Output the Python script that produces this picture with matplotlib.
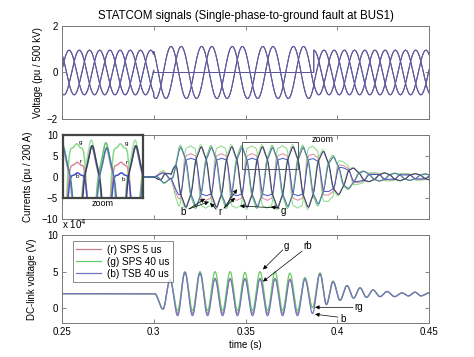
import numpy as np
import matplotlib
matplotlib.use('Agg')
import matplotlib.pyplot as plt
from matplotlib.patches import Rectangle

plt.rcParams['font.family'] = ['Liberation Sans', 'DejaVu Sans']

# ------ Data ------
t_start, t_end = 0.25, 0.45
t_fault = 0.300          # fault applied
t_clear = 0.3872         # fault cleared
f_grid = 60.0

# phase voltages (pu)
v_amp_normal = 0.96
v_amp_fault = 1.12       # healthy phases during the fault

# phase currents: envelope of peak values (pu)
i_env_t = [0.2500, 0.3005, 0.3050, 0.3095, 0.3135, 0.3860, 0.3950, 0.4030, 0.4100, 0.4180, 0.4500]
i_env_v = [0.0, 0.0, 1.6, 0.6, 7.0, 7.0, 5.5, 3.5, 1.8, 1.0, 0.7]
i_peak_t = 0.3535        # peak of the phase shown in the zoom box
i_scale = {'r': [0.92, 1.00, 0.97], 'g': [1.23, 1.10, 1.06], 'b': [0.74, 1.02, 0.99]}
i_shift = {'r': 0.0, 'g': 0.06, 'b': -0.06}
i_h3 = [0.20, 0.05, 0.05]
i_h5 = 0.06

# DC-link voltage extrema (x 1e4 V)
dc_pre = 2.0
dc_drop_t = 0.3005
dc_trough_t = [0.3050, 0.3130, 0.3211, 0.3293, 0.3375, 0.3456, 0.3538, 0.3620, 0.3702, 0.3783,
               0.3865, 0.3941, 0.4015, 0.4089, 0.4159, 0.4233, 0.4312, 0.4388, 0.4456]
dc_peak_t = [0.3089, 0.3170, 0.3252, 0.3334, 0.3416, 0.3497, 0.3579, 0.3661, 0.3742, 0.3824,
             0.3906, 0.3977, 0.4053, 0.4124, 0.4195, 0.4271, 0.4353, 0.4424]
dc_trough = {
    'r': [-0.1, -0.7, -0.7, -0.7, -0.7, -0.7, -0.7, -0.7, -0.7, -0.7, 0.1, 0.6, 1.1, 1.4, 1.5, 1.6, 1.6, 1.7, 1.7],
    'g': [-0.1, -0.3, -0.3, -0.3, -0.3, -0.3, -0.3, -0.3, -0.3, -0.3, 0.1, 0.6, 1.1, 1.4, 1.5, 1.6, 1.6, 1.7, 1.7],
    'b': [-0.1, -1.0, -1.0, -1.0, -1.0, -1.0, -1.0, -1.0, -1.0, -1.0, -0.7, 0.5, 1.1, 1.4, 1.5, 1.6, 1.6, 1.7, 1.7],
}
dc_peak = {
    'r': [3.9, 4.9, 4.8, 4.1, 4.1, 4.1, 4.1, 4.1, 4.0, 4.0, 4.8, 3.7, 3.1, 2.8, 2.5, 2.3, 2.1, 2.2],
    'g': [3.9, 5.0, 5.0, 5.0, 5.0, 4.9, 5.0, 5.0, 4.8, 4.2, 4.8, 3.7, 3.1, 2.8, 2.5, 2.3, 2.1, 2.2],
    'b': [3.9, 4.9, 4.8, 4.0, 4.0, 4.0, 4.0, 4.0, 3.9, 4.0, 4.7, 3.6, 3.1, 2.8, 2.5, 2.3, 2.1, 2.2],
}
dc_final = 2.1

models = ['r', 'g', 'b']
legend_labels = ['(r) SPS 5 us', '(g) SPS 40 us', '(b) TSB 40 us']
dc_colors = {'r': '#c4808f', 'g': '#66cc66', 'b': '#7474c0'}
i_colors = {
    'r': ['#d98a98', '#b07ab8', '#e0a4a4'],
    'g': ['#86da86', '#a6e3a0', '#62c46a'],
    'b': ['#4650c4', '#34465e', '#3a7fa8'],
}
v_colors = {'r': '#8a78a8', 'g': '#7a8a9a', 'b': '#5a55a0'}

# ------ Signals ------
t = np.linspace(t_start, t_end, 6001)
w = 2 * np.pi * f_grid
in_fault = (t >= t_fault) & (t < t_clear)

theta_v = np.pi / 2 - w * t_clear
volt = []
for k in range(3):
    amp = np.where(in_fault, v_amp_fault, v_amp_normal)
    v = amp * np.sin(w * t + theta_v - k * 2 * np.pi / 3)
    if k == 0:
        v[in_fault] = 0.0
    volt.append(v)

env = np.interp(t, i_env_t, i_env_v)
theta_i = np.pi / 2 - w * i_peak_t
curr = {}
for m in models:
    curr[m] = []
    for k in range(3):
        x = w * t + theta_i - k * 2 * np.pi / 3 + i_shift[m]
        wave = np.sin(x) + i_h3[k] * np.sin(3 * x) + i_h5 * np.sin(5 * x)
        curr[m].append(i_scale[m][k] * env * wave)


def dc_curve(m):
    kt = [t_start, dc_drop_t]
    kv = [dc_pre, dc_pre]
    for j in range(len(dc_trough_t)):
        kt.append(dc_trough_t[j]); kv.append(dc_trough[m][j])
        if j < len(dc_peak_t):
            kt.append(dc_peak_t[j]); kv.append(dc_peak[m][j])
    kt.append(t_end); kv.append(dc_final)
    kt = np.array(kt); kv = np.array(kv)
    idx = np.clip(np.searchsorted(kt, t, side='right') - 1, 0, len(kt) - 2)
    s = (t - kt[idx]) / (kt[idx + 1] - kt[idx])
    return kv[idx] + (kv[idx + 1] - kv[idx]) * (1 - np.cos(np.pi * s)) / 2


# ------ Figure ------
fig = plt.figure(figsize=(4.74, 3.57), dpi=100)
ax1 = fig.add_axes([0.1308, 0.6667, 0.7743, 0.2605])
ax2 = fig.add_axes([0.1308, 0.3866, 0.7743, 0.2353])
ax3 = fig.add_axes([0.1308, 0.0952, 0.7743, 0.2465])
tick_fs = 7


def matlab_axes(ax):
    ax.set_xlim(t_start, t_end)
    ax.set_xticks([0.25, 0.3, 0.35, 0.4, 0.45])
    ax.tick_params(direction='in', top=True, right=True, length=3, width=0.5,
                   labelsize=tick_fs, color='#555555', pad=3)
    for sp in ax.spines.values():
        sp.set_color('#777777')
        sp.set_linewidth(0.7)


# ------ Plot 1: voltages ------
for k in range(3):
    for m in ['g', 'r', 'b']:
        ax1.plot(t, volt[k], color=v_colors[m], lw=0.7)
matlab_axes(ax1)
ax1.set_ylim(-2, 2)
ax1.set_yticks([-2, 0, 2])
ax1.set_xticklabels([])
ax1.set_ylabel('Voltage (pu / 500 kV)', fontsize=7)
ax1.yaxis.set_label_coords(-0.052, 0.5)
ax1.set_title('STATCOM signals (Single-phase-to-ground fault at BUS1)', fontsize=8.3, pad=5)

# ------ Plot 2: currents ------
for m in ['g', 'r', 'b']:
    for k in range(3):
        ax2.plot(t, curr[m][k], color=i_colors[m][k], lw=0.7)
matlab_axes(ax2)
ax2.set_ylim(-10, 10)
ax2.set_yticks([-10, -5, 0, 5, 10])
ax2.set_xticklabels([])
ax2.set_ylabel('Currents (pu / 200 A)', fontsize=7)
ax2.yaxis.set_label_coords(-0.079, 0.5)

zx0, zx1, zy0, zy1 = 0.3481, 0.3786, 1.9, 8.3
ax2.add_patch(Rectangle((zx0, zy0), zx1 - zx0, zy1 - zy0, fill=False, ec='#555555', lw=0.7, zorder=5))
ax2.text(0.3862, 9.0, 'zoom', fontsize=6.5, ha='left', va='center')
ax2.text(0.2723, -6.3, 'zoom', fontsize=6.5, ha='center', va='center')

axins = fig.add_axes([0.1329, 0.4454, 0.1688, 0.1765])
for m in ['g', 'r', 'b']:
    for k in range(3):
        axins.plot(t, curr[m][k], color=i_colors[m][k], lw=1.1)
axins.set_xlim(zx0, zx1)
axins.set_ylim(zy0, zy1)
axins.set_xticks([])
axins.set_yticks([])
for sp in axins.spines.values():
    sp.set_color('#444444')
    sp.set_linewidth(1.6)
for lab, px, py in [('g', 0.22, 0.88), ('g', 0.79, 0.86), ('r', 0.22, 0.58), ('r', 0.79, 0.57),
                    ('b', 0.18, 0.34), ('b', 0.76, 0.30)]:
    axins.text(px, py, lab, transform=axins.transAxes, fontsize=4.5, ha='center', va='center')

arrow_kw = dict(arrowstyle='-|>', color='k', lw=0.5, mutation_scale=6, shrinkA=0, shrinkB=0)


def arrows(ax, label, pos, tail, heads):
    ax.text(pos[0], pos[1], label, fontsize=7, ha='center', va='center')
    for h in heads:
        ax.annotate('', xy=h, xytext=tail, arrowprops=arrow_kw)


arrows(ax2, 'b', (0.3159, -8.3), (0.3192, -7.6), [(0.3279, -5.2), (0.3301, -5.9)])
arrows(ax2, 'r', (0.3361, -8.3), (0.3339, -7.6), [(0.3307, -6.2)])
arrows(ax2, '', (0.3361, -8.3), (0.3383, -7.4), [(0.3443, -5.0), (0.3454, -2.9)])
arrows(ax2, 'g', (0.3704, -8.0), (0.3683, -7.4), [(0.3470, -6.9), (0.3639, -7.1)])

# ------ Plot 3: DC-link voltage ------
for m, lab in zip(models, legend_labels):
    ax3.plot(t, dc_curve(m), color=dc_colors[m], lw=0.9, label=lab)
matlab_axes(ax3)
ax3.set_ylim(-2, 10)
ax3.set_yticks([0, 5, 10])
ax3.set_xticklabels(['0.25', '0.3', '0.35', '0.4', '0.45'])
ax3.set_xlabel('time (s)', fontsize=7, labelpad=2)
ax3.set_ylabel('DC-link voltage (V)', fontsize=7)
ax3.yaxis.set_label_coords(-0.068, 0.5)
fig.text(62 / 474, 1 - 231 / 357, 'x 10$^4$', fontsize=7, ha='left', va='bottom')
ax3.legend(loc='upper left', fontsize=7.2, frameon=True, fancybox=False, edgecolor='#555555',
           handlelength=2.5, borderpad=0.35, labelspacing=0.2, handletextpad=0.6,
           bbox_to_anchor=(0.015, 0.985)).get_frame().set_linewidth(0.6)

arrows(ax3, 'g', (0.3721, 8.5), (0.3704, 8.0), [(0.3595, 5.3)])
arrows(ax3, 'rb', (0.3841, 8.5), (0.3808, 7.8), [(0.3595, 3.65)])
arrows(ax3, 'rg', (0.4119, 0.14), (0.4086, 0.14), [(0.3879, 0.14)])
arrows(ax3, 'b', (0.4031, -1.5), (0.4004, -1.2), [(0.3879, -0.8)])

plt.savefig('out.png', dpi=100)
